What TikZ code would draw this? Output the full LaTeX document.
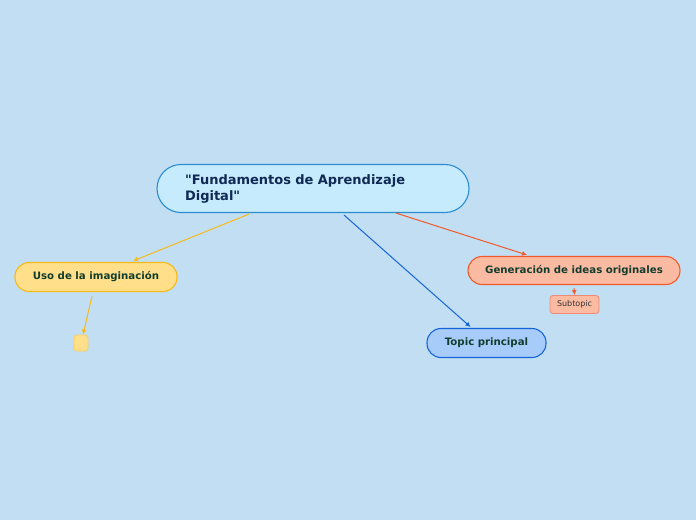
\documentclass[tikz,border=0pt]{standalone}
\usepackage{fontspec}
\setmainfont{DejaVu Sans}[Ligatures=TeXOff]
\usetikzlibrary{arrows.meta}
\definecolor{bgblue}{HTML}{C2DEF2}
\definecolor{mainfill}{HTML}{C6EBFC}
\definecolor{mainline}{HTML}{2B8CD0}
\definecolor{maintext}{HTML}{102A55}
\definecolor{usofill}{HTML}{FFDF8A}
\definecolor{usoline}{HTML}{F6BA1A}
\definecolor{genfill}{HTML}{FBBBA3}
\definecolor{genline}{HTML}{F15A2B}
\definecolor{topfill}{HTML}{A7CCFA}
\definecolor{topline}{HTML}{1565D8}
\definecolor{subline}{HTML}{F08A75}
\definecolor{nodetext}{HTML}{123D2D}
\begin{document}
\begin{tikzpicture}[x=1pt,y=-1pt,
  topicbox/.style={draw,line width=1.1pt,rounded corners=14pt,minimum height=29pt,
    text=nodetext,font=\fontsize{10.2}{12}\selectfont\bfseries,inner sep=0pt},
  link/.style={line width=1pt,-{Latex[length=5pt,width=5pt]}}]
\useasboundingbox[fill=bgblue](0,0)rectangle(696,520);
\node[draw=mainline,fill=mainfill,line width=1.1pt,rounded corners=24pt,minimum width=312pt,
  minimum height=48pt,text width=256pt,inner xsep=28pt,align=left,text=maintext,
  font=\fontsize{13}{16}\selectfont\bfseries](main)at(313,188.5)
  {"Fundamentos de Aprendizaje\\Digital"};
\node[topicbox,draw=usoline,fill=usofill,minimum width=162pt](uso)at(96,277){Uso de la imaginación};
\node[draw=usoline!70!white,fill=usofill,line width=0.8pt,rounded corners=3pt,minimum width=14pt,
  minimum height=16pt,inner sep=0pt](blank)at(81,343){};
\node[topicbox,draw=genline,fill=genfill,minimum width=212pt,minimum height=28pt](gen)at(574,270.5){Generación de ideas originales};
\node[draw=subline,fill=genfill,line width=0.8pt,rounded corners=3pt,minimum width=49pt,
  minimum height=18pt,inner sep=0pt,text=black!80,font=\fontsize{8}{9}\selectfont](sub)at(574.5,304.5){Subtopic};
\node[topicbox,draw=topline,fill=topfill,minimum width=119pt](top)at(486.5,343){Topic principal};
\draw[link,usoline]([xshift=-64pt,yshift=-1pt]main.south)--([xshift=37pt,yshift=1pt]uso.north);
\draw[link,usoline]([xshift=-4pt,yshift=-4pt]uso.south)--([xshift=2pt]blank.north);
\draw[link,topline]([xshift=31pt,yshift=-2pt]main.south)--([xshift=-16pt,yshift=1pt]top.north);
\draw[link,genline]([xshift=83pt]main.south)--([xshift=-47pt,yshift=1pt]gen.north);
\draw[link,genline]([yshift=-3pt]gen.south)--(sub.north);
\end{tikzpicture}
\end{document}
